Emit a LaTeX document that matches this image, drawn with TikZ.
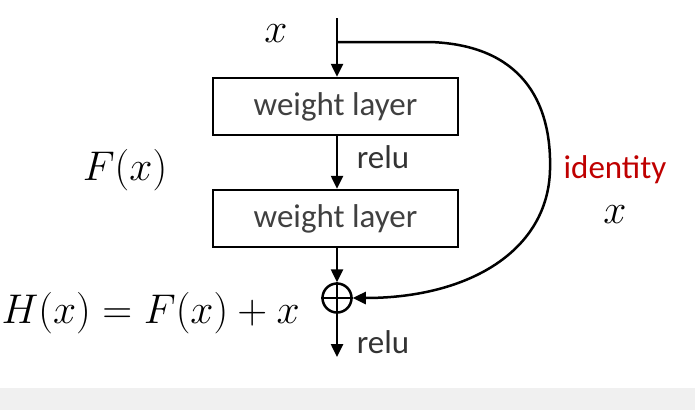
\documentclass[tikz,border=0pt]{standalone}
\usepackage{fontspec}
\setsansfont{Carlito}
\usetikzlibrary{arrows.meta}
\begin{document}
\begin{tikzpicture}[x=1pt,y=-1pt,
  box/.style={draw,line width=2.5pt,minimum width=245pt,minimum height=57pt,inner sep=0pt,font=\sffamily\fontsize{33}{36}\selectfont,text=black!75},
  lbl/.style={font=\sffamily\fontsize{33}{36}\selectfont,text=black!80},
  mth/.style={font=\huge,scale=2,inner sep=0pt},
  arr/.style={line width=2.5pt,-{Triangle[length=13pt,width=12pt]}}]
\useasboundingbox (0,0) rectangle (695,410);
\fill[black!6] (0,388) rectangle (695,410);
\coordinate (top) at (337,18);
\coordinate (split) at (337,42);
\node[box] (b1) at (335.5,106.5) {weight layer};
\node[box] (b2) at (335.5,218.5) {weight layer};
\node[draw,circle,line width=2.5pt,minimum size=29pt,inner sep=0pt] (add) at (337,298) {};
\draw[line width=2.5pt] (add.north)--(add.south) (add.west)--(add.east);
\coordinate (out) at (337,357);
\draw[arr] (top) -- (b1.north -| top);
\draw[arr] (b1.south -| top) -- (b2.north -| top);
\draw[arr] (b2.south -| top) -- (add.north);
\draw[arr] (add.south) -- (out);
\draw[arr] (split) -- (430,42) .. controls (520,45) and (552,100) .. (550,170) .. controls (548,250) and (470,298) .. (add.east);
\node[mth] (xin) at (276,34) {$x$};
\node[lbl] (r1) at (383,157) {relu};
\node[lbl] (r2) at (383,342) {relu};
\node[mth] (fx) at (125,170) {$F(x)$};
\node[mth,anchor=east] (hx) at (300,313) {$H(x)=F(x)+x$};
\node[lbl,text=red!75!black] (id) at (615,170) {identity};
\node[mth] (ix) at (615,215) {$x$};
\end{tikzpicture}
\end{document}
